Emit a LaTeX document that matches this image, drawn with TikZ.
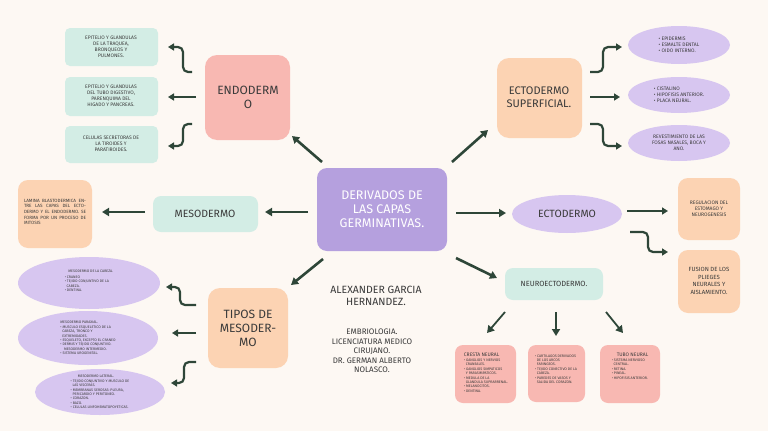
\documentclass[tikz,border=0pt]{standalone}
\usepackage{fontspec}
\setmainfont{Fira Sans}
\usetikzlibrary{arrows.meta,shapes.geometric}
\definecolor{bg}{HTML}{FDF8F3}
\definecolor{mint}{HTML}{D3EDE5}
\definecolor{peach}{HTML}{FCD3B3}
\definecolor{lav}{HTML}{D7C6F0}
\definecolor{cen}{HTML}{B5A0DE}
\definecolor{pink}{HTML}{F8B8B2}
\definecolor{ink}{HTML}{2E4638}
\definecolor{txt}{HTML}{3A3A3A}
\newcommand{\bu}{\textbullet\ }
\begin{document}
\begin{tikzpicture}[x=1pt,y=-1pt,
 arr/.style={draw=ink,line width=2.6pt,-{Triangle[length=7pt,width=8pt]}},
 carr/.style={draw=ink,line width=2.2pt,rounded corners=5pt,-{Triangle[length=6pt,width=7pt]}},
 small/.style={font=\fontsize{5}{6}\selectfont},
 tiny/.style={font=\fontsize{3.6}{4.4}\selectfont}]
\fill[bg] (0,0) rectangle (768,431);
\useasboundingbox (0,0) rectangle (768,431);
% center
\fill[cen,rounded corners=10pt] (317,168) rectangle (447,251);
\node[text=white,align=center,font=\fontsize{12.5}{14}\selectfont] (c) at (382,209) {DERIVADOS DE\\LAS CAPAS\\GERMINATIVAS.};
% endoderm
\fill[pink,rounded corners=12pt] (205,55) rectangle (290,140);
\node[text=txt,align=center,font=\fontsize{12}{14}\selectfont] (en) at (248,97) {ENDODERM\\O};
\fill[mint,rounded corners=5pt] (65,28) rectangle (158,66);
\node[small,text=txt,align=center] (e1) at (111,47) {EPITELIO Y GLANDULAS\\DE LA TRAQUEA,\\BRONQUEOS Y\\PULMONES.};
\fill[mint,rounded corners=5pt] (65,77) rectangle (158,116);
\node[small,text=txt,align=center] (e2) at (111,96) {EPITELIO Y GLANDULAS\\DEL TUBO DIGESTIVO,\\PARENQUIMA DEL\\HIGADO Y PANCREAS.};
\fill[mint,rounded corners=5pt] (65,126) rectangle (158,163);
\node[small,text=txt,align=center] (e3) at (111,144) {CELULAS SECRETORAS DE\\LA TIROIDES Y\\PARATIROIDES.};
% ecto superficial
\fill[peach,rounded corners=12pt] (497,58) rectangle (582,138);
\node[text=txt,align=center,font=\fontsize{11}{13}\selectfont] (es) at (539,97) {ECTODERMO\\SUPERFICIAL.};
\fill[lav] (679,45) ellipse (51 and 19);
\node[small,text=txt,align=left] (s1) at (679,45) {\bu EPIDERMIS\\\bu ESMALTE DENTAL\\\bu OIDO INTERNO.};
\fill[lav] (679,95) ellipse (51 and 18);
\node[small,text=txt,align=left] (s2) at (679,95) {\bu CISTALINO\\\bu HIPOFISIS ANTERIOR.\\\bu PLACA NEURAL.};
\fill[lav] (679,143) ellipse (51 and 18);
\node[small,text=txt,align=center] (s3) at (679,143) {REVESTIMIENTO DE LAS\\FOSAS NASALES, BOCA Y\\ANO.};
% mesodermo
\fill[mint,rounded corners=8pt] (153,196) rectangle (258,232);
\node[text=txt,font=\fontsize{10.5}{12}\selectfont] (me) at (205,214) {MESODERMO};
\fill[peach,rounded corners=10pt] (18,180) rectangle (92,248);
\node[font=\fontsize{4.6}{5.6}\selectfont,text=txt,align=justify,text width=62pt] (la) at (55,212) {LAMINA BLASTODERMICA ENTRE LAS CAPAS DEL ECTODERMO Y EL ENDODERMO. SE FORMA POR UN PROCESO DE MITOSIS};
% ectodermo
\fill[lav] (567,214) ellipse (55 and 19);
\node[text=txt,font=\fontsize{10.5}{12}\selectfont] (ec) at (567,214) {ECTODERMO};
\fill[peach,rounded corners=10pt] (678,178) rectangle (740,240);
\node[small,text=txt,align=center] (r1) at (709,209) {REGULACION DEL\\ESTOMAGO Y\\NEUROGENESIS};
\fill[peach,rounded corners=10pt] (678,250) rectangle (740,313);
\node[font=\fontsize{6}{7.5}\selectfont,text=txt,align=center] (r2) at (709,281) {FUSION DE LOS\\PLIEGES\\NEURALES Y\\AISLAMIENTO.};
% neuroecto
\fill[mint,rounded corners=8pt] (505,268) rectangle (603,300);
\node[text=txt,font=\fontsize{7.5}{9}\selectfont] (ne) at (554,284) {NEUROECTODERMO.};
\fill[pink,rounded corners=8pt] (455,345) rectangle (516,403);
\node[tiny,text=txt,align=left,anchor=north] (n1) at (486,349) {\fontsize{5}{6}\selectfont CRESTA NEURAL\\[1pt]\bu GANGLIOS Y NERVIOS\\\ \ CRANEALES.\\\bu GANGLIOS SIMPATICOS\\\ \ Y PARASIMPATICOS.\\\bu MEDULA DE LA\\\ \ GLANDULA SUPRARRENAL.\\\bu MELANOCITOS.\\\bu DENTINA.};
\fill[pink,rounded corners=8pt] (528,345) rectangle (585,402);
\node[tiny,text=txt,align=left,anchor=north] (n2) at (556,351) {\bu CARTILAGOS DERIVADOS\\\ \ DE LOS ARCOS\\\ \ FARINGEOS.\\\bu TEJIDO CONECTIVO DE LA\\\ \ CABEZA.\\\bu PAREDES DE VASOS Y\\\ \ SALIDA DEL CORAZON.};
\fill[pink,rounded corners=8pt] (600,345) rectangle (660,403);
\node[tiny,text=txt,align=left,anchor=north] (n3) at (630,349) {\fontsize{5}{6}\selectfont\quad TUBO NEURAL\\[1pt]\bu SISTEMA NERVIOSO\\\ \ CENTRAL.\\\bu RETINA.\\\bu PINEAL.\\\bu HIPOFISIS ANTERIOR.};
% tipos
\fill[peach,rounded corners=12pt] (208,288) rectangle (288,368);
\node[text=txt,align=center,font=\fontsize{12}{14}\selectfont] (ti) at (248,328) {TIPOS DE\\MESODER-\\MO};
\fill[lav] (89,283) ellipse (71 and 26);
\node[tiny,text=txt,align=left] (t1) at (89,281) {\quad MESODERMO DE LA CABEZA.\\[1pt]\bu CRANEO\\\bu TEJIDO CONJUNTIVO DE LA\\\ \ CABEZA.\\\bu DENTINA.};
\fill[lav] (88,338) ellipse (70 and 27);
\node[tiny,text=txt,align=left] (t2) at (88,338) {MESODERMO PARAXIAL.\\\bu MUSCULO ESQUELETICO DE LA\\\ \ CABEZA, TRONCO Y\\\ \ EXTREMIDADES.\\\bu ESQUELETO, EXCEPTO EL CRANEO\\\bu DERMIS Y TEJIDO CONJUNTIVO.\\\quad MESODERMO INTERMEDIO.\\\bu SISTEMA UROGENITAL.};
\fill[lav] (100,392) ellipse (65 and 23);
\node[tiny,text=txt,align=left] (t3) at (100,392) {\qquad MESODERMO LATERAL.\\\bu TEJIDO CONJUNTIVO Y MUSCULO DE\\\ \ LAS VISCERAS.\\\bu MEMBRANAS SEROSAS: PLEURA,\\\ \ PERICARDIO Y PERITONEO.\\\bu CORAZON.\\\bu BAZO.\\\bu CELULAS LINFOHEMATOPOYETICAS.};
% author
\node[text=txt,align=center,font=\fontsize{10.5}{12}\selectfont] (au) at (376,296) {ALEXANDER GARCIA\\HERNANDEZ.};
\node[text=txt,align=center,font=\fontsize{8}{9.5}\selectfont] (au2) at (372,351) {EMBRIOLOGIA.\\LICENCIATURA MEDICO\\CIRUJANO.\\DR. GERMAN ALBERTO\\NOLASCO.};
% arrows
\draw[arr] (322,162) -- (292,136);
\draw[arr] (452,162) -- (488,130);
\draw[arr] (308,212) -- (265,212);
\draw[arr] (456,213) -- (506,213);
\draw[arr] (323,259) -- (291,285);
\draw[arr] (456,258) -- (497,278);
\draw[arr,line width=1.8pt] (145,212) -- (102,212);
% endo children
\draw[carr] (192,72) -- (183,72) -- (183,47) -- (168,47);
\draw[carr] (196,97) -- (168,97);
\draw[carr] (192,124) -- (183,124) -- (183,146) -- (168,146);
% ecto sup children
\draw[carr] (590,72) -- (603,72) -- (603,47) -- (622,47);
\draw[carr] (590,97) -- (620,97);
\draw[carr] (590,124) -- (603,124) -- (603,146) -- (622,146);
% ectodermo children
\draw[carr] (627,211) -- (668,211);
\draw[carr] (630,232) -- (648,232) -- (648,252) -- (668,252);
% neuro children
\draw[arr,line width=1.8pt] (505,312) -- (487,333);
\draw[arr,line width=1.8pt] (556,312) -- (556,336);
\draw[arr,line width=1.8pt] (606,312) -- (623,333);
% tipos children
\draw[carr] (196,305) -- (180,305) -- (180,287) -- (166,287);
\draw[carr] (196,333) -- (172,333);
\draw[carr] (196,362) -- (184,362) -- (184,383) -- (171,383);
\end{tikzpicture}
\end{document}
